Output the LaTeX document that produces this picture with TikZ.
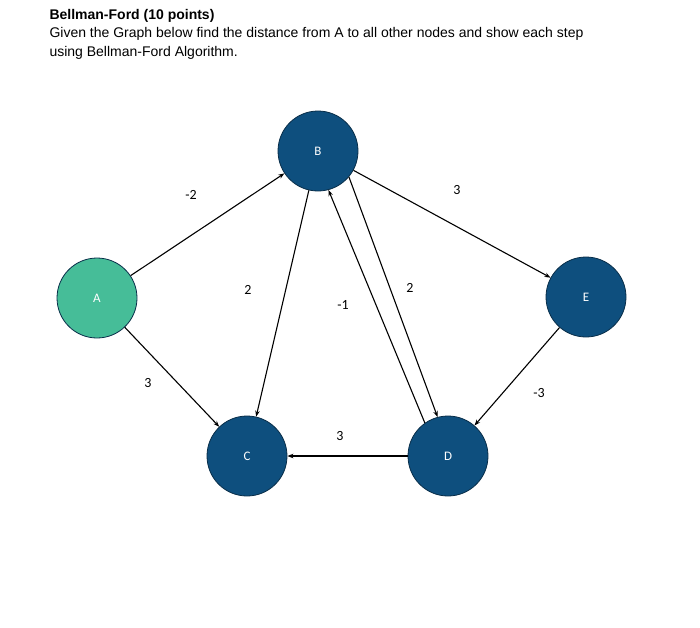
\documentclass[tikz,border=0pt]{standalone}
\usepackage{fontspec}
\setmainfont{Liberation Sans}
\newfontfamily\calib{Carlito}
\usetikzlibrary{arrows.meta}
\definecolor{nblue}{HTML}{0E4F7E}
\definecolor{ngreen}{HTML}{46BD98}
\definecolor{nborder}{HTML}{0A2F4A}
\begin{document}
\begin{tikzpicture}[x=1pt,y=-1pt,
  vert/.style={circle,draw=nborder,line width=0.8pt,minimum size=80pt,inner sep=0pt,text=white,font=\calib\fontsize{13}{15}\selectfont},
  edge/.style={-{Stealth[length=6pt,width=4.5pt]},line width=1.1pt},
  wlab/.style={font=\calib\fontsize{14}{16}\selectfont}]
\useasboundingbox (0,0) rectangle (700,627);
\fill[white] (0,0) rectangle (700,627);
\node[anchor=west,font=\bfseries\fontsize{14}{16}\selectfont] (t1) at (46,16) {Bellman-Ford (10 points)};
\node[anchor=west,font=\fontsize{14}{16}\selectfont] (t2) at (46,34) {Given the Graph below find the distance from A to all other nodes and show each step};
\node[anchor=west,font=\fontsize{14}{16}\selectfont] (t3) at (46,53) {using Bellman-Ford Algorithm.};
\node[vert,fill=ngreen] (A) at (97,298) {A};
\node[vert,fill=nblue] (B) at (318,151) {B};
\node[vert,fill=nblue] (C) at (247,456) {C};
\node[vert,fill=nblue] (D) at (448,456) {D};
\node[vert,fill=nblue] (E) at (586,297) {E};
\draw[edge] (A) -- (B);
\draw[edge] (A) -- (C);
\draw[edge] (B) -- (C);
\draw[edge] (B.-40) -- (D.105);
\draw[edge] (D.125) -- (B.-75);
\draw[edge] (B) -- (E);
\draw[edge] (E) -- (D);
\draw[edge] (D) -- (C);
\node[wlab] (l1) at (191,195) {-2};
\node[wlab] (l2) at (148,383) {3};
\node[wlab] (l3) at (248,290) {2};
\node[wlab] (l4) at (343,305) {-1};
\node[wlab] (l5) at (410,288) {2};
\node[wlab] (l6) at (457,190) {3};
\node[wlab] (l7) at (539,393) {-3};
\node[wlab] (l8) at (340,436) {3};
\end{tikzpicture}
\end{document}
